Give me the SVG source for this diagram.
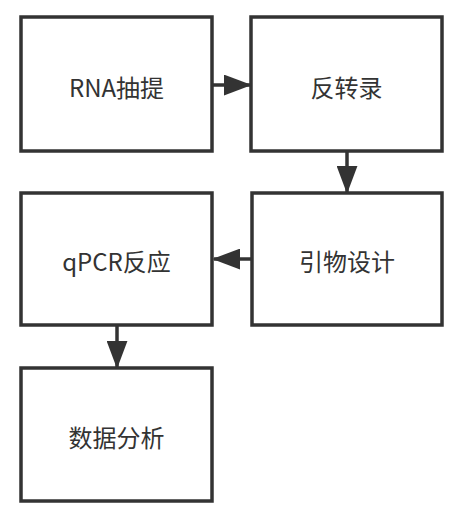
<svg xmlns="http://www.w3.org/2000/svg" width="460" height="511" viewBox="0 0 460 511">
<style>
.box{fill:#fff;stroke:#333;stroke-width:3.5}
.lbl{font-family:"Noto Sans CJK SC","Noto Sans",sans-serif;font-size:24px;fill:#333;text-anchor:middle;dominant-baseline:central}
.con{stroke:#333;stroke-width:3.5;fill:none}
</style>
<defs>
<marker id="ah" markerWidth="8" markerHeight="6" refX="7.5" refY="3" orient="auto" markerUnits="strokeWidth">
<path d="M0,0 L8,3 L0,6 Z" fill="#333"/>
</marker>
</defs>
<rect width="460" height="511" fill="#fff"/>
<g id="connectors">
<line class="con" x1="212" y1="85" x2="250" y2="85" marker-end="url(#ah)"/>
<line class="con" x1="347" y1="151" x2="347" y2="192" marker-end="url(#ah)"/>
<line class="con" x1="252" y1="259" x2="214" y2="259" marker-end="url(#ah)"/>
<line class="con" x1="117" y1="325" x2="117" y2="367" marker-end="url(#ah)"/>
</g>
<g id="n1"><rect class="box" x="21" y="17" width="191" height="134"/><text class="lbl" x="116.5" y="86">RNA抽提</text></g>
<g id="n2"><rect class="box" x="251" y="17" width="191" height="134"/><text class="lbl" x="346.5" y="86">反转录</text></g>
<g id="n3"><rect class="box" x="252" y="193" width="190" height="132"/><text class="lbl" x="347" y="260">引物设计</text></g>
<g id="n4"><rect class="box" x="21" y="193" width="191" height="132"/><text class="lbl" x="116.5" y="260">qPCR反应</text></g>
<g id="n5"><rect class="box" x="21" y="368" width="191" height="133"/><text class="lbl" x="116.5" y="436">数据分析</text></g>
</svg>
